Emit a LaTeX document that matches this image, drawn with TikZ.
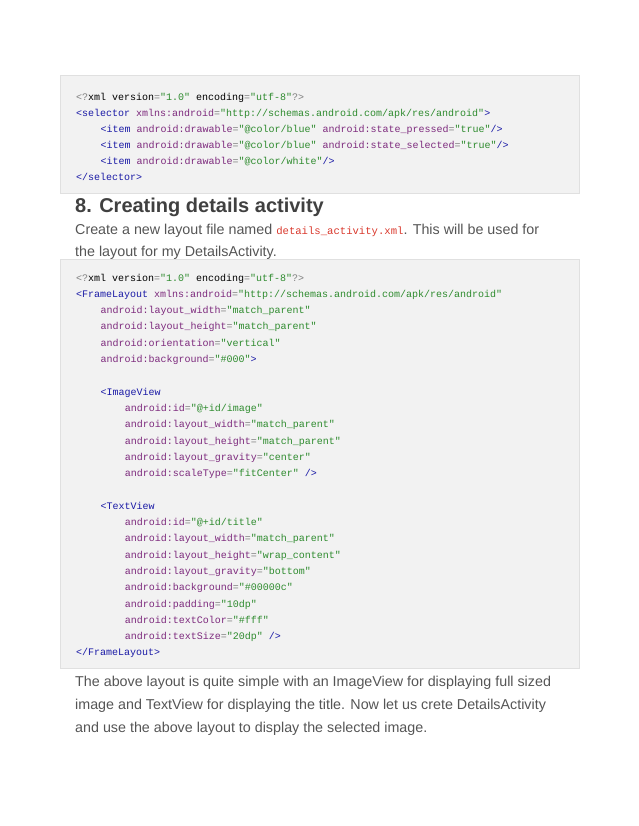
\documentclass[tikz,border=0pt]{standalone}
\usepackage{fontspec}
\setmainfont{Liberation Sans}
\newfontfamily\codef{Liberation Mono}
\definecolor{tagc}{HTML}{1A1AA6}
\definecolor{attc}{HTML}{7D2A7D}
\definecolor{valc}{HTML}{2E8B2E}
\definecolor{pgc}{HTML}{808080}
\definecolor{txc}{HTML}{555555}
\definecolor{codebg}{HTML}{F2F2F2}
\definecolor{codebd}{HTML}{E0E0E0}
\definecolor{redc}{HTML}{D9382C}
\newcommand\tg[1]{\textcolor{tagc}{#1}}
\newcommand\at[1]{\textcolor{attc}{#1}}
\newcommand\vl[1]{\textcolor{valc}{#1}}
\newcommand\eq{\textcolor{pgc}{=}}
\tikzset{cl/.style={anchor=base west,inner sep=0pt,font=\codef\fontsize{10}{12}\selectfont},
 tl/.style={anchor=base west,inner sep=0pt,text=txc,font=\fontsize{14.3}{18}\selectfont},
 box/.style={fill=codebg,draw=codebd,line width=0.6pt}}
\begin{document}
\begin{tikzpicture}[x=1pt,y=-1pt]
\useasboundingbox (0,0) rectangle (638,826);
\draw[box] (60,75) rectangle (579,193);
\def\a{76}\def\b{100.3}\def\c{124.6}
\node[cl] (l1) at (\a,101) {\textcolor{pgc}{<?}xml version\eq\vl{"1.0"} encoding\eq\vl{"utf-8"}\textcolor{pgc}{?>}};
\node[cl] (l2) at (\a,117) {\tg{<selector} \at{xmlns:android}\eq\vl{"http://schemas.android.com/apk/res/android"}\tg{>}};
\node[cl] (l3) at (\b,133) {\tg{<item} \at{android:drawable}\eq\vl{"@color/blue"} \at{android:state\_pressed}\eq\vl{"true"}\tg{/>}};
\node[cl] (l4) at (\b,149) {\tg{<item} \at{android:drawable}\eq\vl{"@color/blue"} \at{android:state\_selected}\eq\vl{"true"}\tg{/>}};
\node[cl] (l5) at (\b,165) {\tg{<item} \at{android:drawable}\eq\vl{"@color/white"}\tg{/>}};
\node[cl] (l6) at (\a,181) {\tg{</selector>}};
\node[anchor=base west,inner sep=0pt,text=black!75,font=\bfseries\fontsize{20}{24}\selectfont] (h) at (75,213) {8. Creating details activity};
\node[tl] (p1) at (75,234) {Create a new layout file named \textcolor{redc}{\codef\fontsize{10.6}{12}\selectfont details\_activity.xml}. This will be used for};
\node[tl] (p2) at (75,256) {the layout for my DetailsActivity.};
\draw[box] (60,259) rectangle (579,668);
\foreach \i/\x/\t in {
0/\a/{\textcolor{pgc}{<?}xml version\eq\vl{"1.0"} encoding\eq\vl{"utf-8"}\textcolor{pgc}{?>}},
1/\a/{\tg{<FrameLayout} \at{xmlns:android}\eq\vl{"http://schemas.android.com/apk/res/android"}},
2/\b/{\at{android:layout\_width}\eq\vl{"match\_parent"}},
3/\b/{\at{android:layout\_height}\eq\vl{"match\_parent"}},
4/\b/{\at{android:orientation}\eq\vl{"vertical"}},
5/\b/{\at{android:background}\eq\vl{"\#000"}\tg{>}},
7/\b/{\tg{<ImageView}},
8/\c/{\at{android:id}\eq\vl{"@+id/image"}},
9/\c/{\at{android:layout\_width}\eq\vl{"match\_parent"}},
10/\c/{\at{android:layout\_height}\eq\vl{"match\_parent"}},
11/\c/{\at{android:layout\_gravity}\eq\vl{"center"}},
12/\c/{\at{android:scaleType}\eq\vl{"fitCenter"} \tg{/>}},
14/\b/{\tg{<TextView}},
15/\c/{\at{android:id}\eq\vl{"@+id/title"}},
16/\c/{\at{android:layout\_width}\eq\vl{"match\_parent"}},
17/\c/{\at{android:layout\_height}\eq\vl{"wrap\_content"}},
18/\c/{\at{android:layout\_gravity}\eq\vl{"bottom"}},
19/\c/{\at{android:background}\eq\vl{"\#00000c"}},
20/\c/{\at{android:padding}\eq\vl{"10dp"}},
21/\c/{\at{android:textColor}\eq\vl{"\#fff"}},
22/\c/{\at{android:textSize}\eq\vl{"20dp"} \tg{/>}},
23/\a/{\tg{</FrameLayout>}}}
{\node[cl] (c\i) at (\x,{281+\i*16.3}) {\t};}
\node[tl] (q1) at (75,686) {The above layout is quite simple with an ImageView for displaying full sized};
\node[tl] (q2) at (75,709) {image and TextView for displaying the title. Now let us crete DetailsActivity};
\node[tl] (q3) at (75,732) {and use the above layout to display the selected image.};
\end{tikzpicture}
\end{document}
